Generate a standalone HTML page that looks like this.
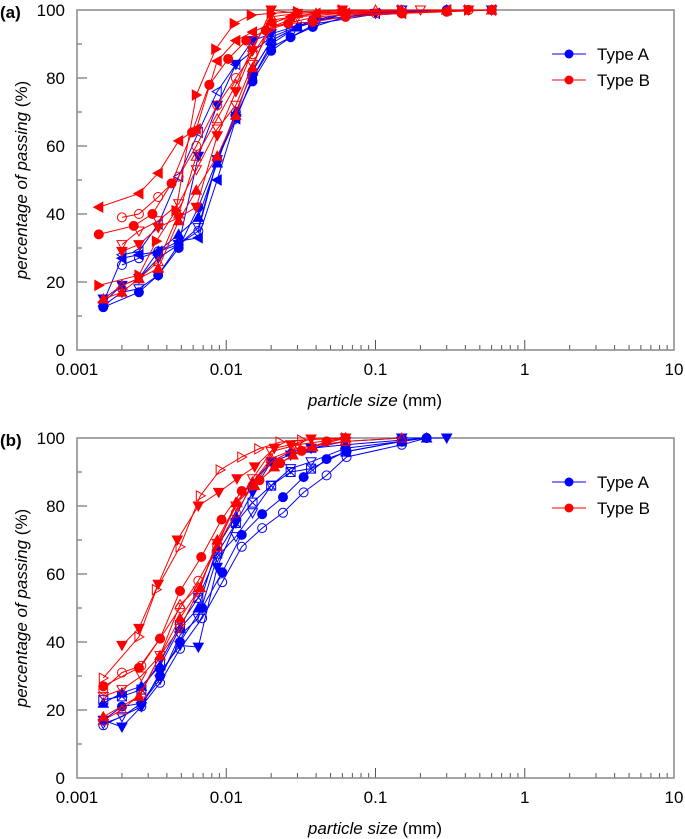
<!DOCTYPE html>
<html><head><meta charset="utf-8"><style>
html,body{margin:0;padding:0;background:#fff;}
svg{display:block;font-family:"Liberation Sans",Arial,sans-serif;}
</style></head><body>
<svg id="chart" width="685" height="839" viewBox="0 0 685 839" xmlns="http://www.w3.org/2000/svg"></svg>
<script>
// ---- data ----
const xTickLabels=["0.001","0.01","0.1","1","10"];
const yTickLabels=["0","20","40","60","80","100"];
const legendLabels=["Type A","Type B"];
// panel (a) type A
const aA1x=[0.0015,0.0026,0.0035,0.0048,0.0065,0.0087,0.0116,0.015,0.02,0.027,0.038,0.063,0.15,0.3,0.6];
const aA1y=[12.6,17,22,30,42,56,69,79,88,92,95,98,99,100,100];
const aA2x=[0.002,0.0026,0.0035,0.0048,0.0065,0.0087,0.0116,0.015,0.02,0.027,0.038,0.063,0.15,0.42];
const aA2y=[25,27,29,31,35,56,70,82,91,94,97,99,100,100];
const aA3x=[0.002,0.0026,0.0035,0.0048,0.0065,0.0087,0.0116,0.02,0.038,0.1,0.6];
const aA3y=[28,29,37,51,64,76,84,92,97,99,100];
const aA4x=[0.0015,0.002,0.0026,0.0035,0.0048,0.0065,0.0087,0.0116,0.015,0.02,0.04,0.1,0.6];
const aA4y=[15,19,21,27,31,57,72,84,91,93,97,99,100];
const aA5x=[0.0015,0.002,0.0026,0.0035,0.0048,0.0065,0.0087,0.0116,0.015,0.02,0.03,0.063,0.3];
const aA5y=[14,27,28,29,32,33,50,68,80,90,95,99,100];
const aA6x=[0.0015,0.002,0.0026,0.0035,0.0048,0.0065,0.0087,0.0116,0.015,0.02,0.03,0.063,0.3];
const aA6y=[14,19,21,29,34,39,55,70,82,91,95,99,100];
const aA7x=[0.0015,0.002,0.0026,0.0035,0.0048,0.0065,0.0087,0.0116,0.015,0.02,0.04,0.15];
const aA7y=[13,17,18,22,31,36,56,68,80,89,96,100];
// panel (a) type B
const aB1x=[0.0014,0.0026,0.0035,0.0048,0.0063,0.0087,0.0116,0.015,0.02,0.027,0.04,0.063,0.15,0.3,0.6];
const aB1y=[42,46,52,61.5,65,85,91,93.5,96,98,99,99,99,100,100];
const aB2x=[0.0014,0.0024,0.0032,0.0043,0.0059,0.0077,0.0103,0.0136,0.0184,0.026,0.038,0.063,0.15,0.3,0.6];
const aB2y=[34,36.5,40,49,64,78,85.6,91,94,96,96.5,98,99,99.5,100];
const aB3x=[0.0014,0.0026,0.0034,0.0046,0.0063,0.0085,0.0113,0.0147,0.02,0.03,0.06,0.15,0.42];
const aB3y=[19,22,32,41,75,88.5,96,98.5,99,99.5,100,100,100];
const aB4x=[0.002,0.0026,0.0035,0.0048,0.0063,0.0087,0.0116,0.015,0.02,0.04,0.1,0.42];
const aB4y=[39,40,45,51,60,72,80,87,95,98,99,100];
const aB5x=[0.002,0.0026,0.0035,0.0048,0.0063,0.0087,0.0116,0.015,0.02,0.03,0.06,0.2];
const aB5y=[31,35,38,43,53,65,72,84,95,98,99,100];
const aB6x=[0.0015,0.002,0.0026,0.0035,0.0048,0.0063,0.0087,0.0116,0.015,0.02,0.04,0.15];
const aB6y=[15,17,21,24,38,47,57,69,83,97,99,100];
const aB7x=[0.0015,0.002,0.0026,0.0035,0.0048,0.0063,0.0087,0.0116,0.015,0.02,0.03,0.1,0.6];
const aB7y=[15,19,21,26,40,57,68,78,89,98,99,100,100];
const aB8x=[0.002,0.0026,0.0035,0.0048,0.0063,0.0087,0.0116,0.015,0.02,0.03,0.06,0.42];
const aB8y=[29,31,36,39,42,63,76,88,100,99,100,100];
// panel (b) type A
const bA1x=[0.0015,0.0027,0.0036,0.0049,0.0069,0.0094,0.0127,0.0174,0.024,0.033,0.047,0.064,0.15,0.22];
const bA1y=[15.5,21,28,38,47,57.6,68,73.5,78,84,89,94.4,98,100];
const bA2x=[0.0015,0.002,0.0027,0.0036,0.0049,0.0069,0.0094,0.0127,0.0174,0.024,0.033,0.047,0.064,0.15,0.22];
const bA2y=[17,21,22,30,40,50,60.5,71.5,77.6,82.6,88.5,93.8,96,99,100];
const bA3x=[0.0015,0.002,0.0027,0.0036,0.0049,0.0065,0.0087,0.0116,0.015,0.02,0.027,0.037,0.063,0.15,0.3];
const bA3y=[17,15,21,31,39,38.5,62,75,84,93,95,97,99,100,100];
const bA4x=[0.0015,0.002,0.0027,0.0036,0.0049,0.0065,0.0087,0.0116,0.015,0.02,0.027,0.037,0.063,0.22];
const bA4y=[22,25,27,33,44,50,68,77,87,93,96,97,98,100];
const bA5x=[0.0015,0.002,0.0027,0.0036,0.0049,0.0065,0.0087,0.0116,0.015,0.02,0.027,0.037,0.063,0.15];
const bA5y=[23,24,26,34,45,53,66,75,81,86,90,91,96,99];
const bA6x=[0.0015,0.002,0.0027,0.0036,0.0049,0.0065,0.0087,0.0116,0.015,0.02,0.027,0.037,0.063,0.15];
const bA6y=[16,18,22,29,42,47,65,71,78,86,91,93,97,99];
// panel (b) type B
const bB1x=[0.0015,0.0026,0.0034,0.0049,0.0067,0.0091,0.0127,0.0165,0.0229,0.032,0.063];
const bB1y=[29.4,41.5,55.4,68,83,90.6,94.4,96.8,98.8,99.4,100];
const bB2x=[0.002,0.0026,0.0035,0.0047,0.0065,0.0089,0.0118,0.0155,0.021,0.027,0.037,0.063];
const bB2y=[39,44,57,70,80,84,88,91.5,97,98,99.7,100];
const bB3x=[0.0015,0.0026,0.0036,0.0049,0.0068,0.0093,0.0127,0.0167,0.023,0.032,0.047,0.063];
const bB3y=[27,32.4,41,55,65,76,84.4,87.6,92.6,96.2,99,100];
const bB4x=[0.0015,0.002,0.0027,0.0036,0.0049,0.0065,0.0087,0.0116,0.015,0.02,0.03,0.063];
const bB4y=[26,31,33,41,50,58,68,78,86,93,97,99];
const bB5x=[0.0015,0.0026,0.0036,0.0049,0.0067,0.0087,0.0118,0.0155,0.021,0.028,0.038,0.063];
const bB5y=[18,24,36,47,56,70,81,86,91.5,95,97.4,100];
const bB6x=[0.0015,0.002,0.0027,0.0036,0.0049,0.0065,0.0087,0.0116,0.015,0.02,0.03,0.063];
const bB6y=[24,26,30,36,44,55,69,80,88,96,98,100];
const bB7x=[0.0015,0.002,0.0027,0.0036,0.0049,0.0065,0.0087,0.0116,0.015,0.02,0.03,0.063,0.15];
const bB7y=[17,20,25,36,51,56,68,81,87,94,97,99,100];

const panels=[
 {id:"a",top:10,series:[
  [aA1x,aA1y,"A","circle",true],[aA2x,aA2y,"A","circle",false],[aA3x,aA3y,"A","left",false],
  [aA4x,aA4y,"A","down",true],[aA5x,aA5y,"A","left",true],[aA6x,aA6y,"A","up",true],[aA7x,aA7y,"A","down",false],
  [aB1x,aB1y,"B","left",true],[aB2x,aB2y,"B","circle",true],[aB3x,aB3y,"B","right",true],[aB4x,aB4y,"B","circle",false],
  [aB5x,aB5y,"B","down",false],[aB6x,aB6y,"B","up",true],[aB7x,aB7y,"B","up",false],[aB8x,aB8y,"B","down",true]]},
 {id:"b",top:438,series:[
  [bA1x,bA1y,"A","circle",false],[bA2x,bA2y,"A","circle",true],[bA3x,bA3y,"A","down",true],
  [bA4x,bA4y,"A","up",true],[bA5x,bA5y,"A","square",false],[bA6x,bA6y,"A","down",false],
  [bB1x,bB1y,"B","right",false],[bB2x,bB2y,"B","down",true],[bB3x,bB3y,"B","circle",true],[bB4x,bB4y,"B","circle",false],
  [bB5x,bB5y,"B","up",true],[bB6x,bB6y,"B","down",false],[bB7x,bB7y,"B","up",false]]}
];

const NS="http://www.w3.org/2000/svg";
const svg=document.getElementById("chart");
const L=77,R=674,H=340;
function xs(v){return L+(R-L)*(Math.log10(v)+3)/4;}
function mk(tag,at,parent){const e=document.createElementNS(NS,tag);for(const k in at)e.setAttribute(k,at[k]);(parent||svg).appendChild(e);return e;}
const colors={A:"#0000ff",B:"#ff0000"};
function marker(g,shape,cx,cy,col,filled){
  const r=4.5;let e;
  const st={fill:filled?col:"none",stroke:col,"stroke-width":1};
  if(shape==="circle"){e=mk("circle",Object.assign({cx:cx,cy:cy,r:r},st),g);}
  else if(shape==="square"){e=mk("rect",Object.assign({x:cx-r,y:cy-r,width:2*r,height:2*r},st),g);
    mk("path",{d:`M${cx-r} ${cy-r}L${cx+r} ${cy+r}M${cx+r} ${cy-r}L${cx-r} ${cy+r}`,stroke:col,"stroke-width":1},g);}
  else{let p;const s=5;
    if(shape==="up")p=[[cx,cy-s],[cx+s,cy+s*0.8],[cx-s,cy+s*0.8]];
    if(shape==="down")p=[[cx,cy+s],[cx+s,cy-s*0.8],[cx-s,cy-s*0.8]];
    if(shape==="left")p=[[cx-s,cy],[cx+s*0.8,cy-s],[cx+s*0.8,cy+s]];
    if(shape==="right")p=[[cx+s,cy],[cx-s*0.8,cy-s],[cx-s*0.8,cy+s]];
    e=mk("polygon",Object.assign({points:p.map(q=>q.join(",")).join(" ")},st),g);}
  
  
}
panels.forEach(P=>{
  const T=P.top,B=T+H;
  const ys=v=>B-H*v/100;
  const g=mk("g",{});
  
  
  const lab=mk("text",{x:0,y:T+8,"font-size":17,"font-weight":"bold"},g);lab.textContent="("+P.id+")";
  
  
  // ticks
  yTickLabels.forEach((t,i)=>{const y=ys(i*20);
    mk("line",{x1:L,x2:L+10,y1:y,y2:y,stroke:"#555","stroke-width":1},g);
    if(i<5)mk("line",{x1:L,x2:L+5,y1:ys(i*20+10),y2:ys(i*20+10),stroke:"#555","stroke-width":1},g);
    const tx=mk("text",{x:65,y:y+6,"font-size":17,"text-anchor":"end"},g);tx.textContent=t;
    
    
  });
  xTickLabels.forEach((t,i)=>{const v=Math.pow(10,i-3),x=xs(v);
    mk("line",{x1:x,x2:x,y1:B,y2:B-10,stroke:"#555","stroke-width":1},g);
    if(i<4)for(let k=2;k<10;k++){const xx=xs(v*k);mk("line",{x1:xx,x2:xx,y1:B,y2:B-5,stroke:"#555","stroke-width":1},g);}
    const tx=mk("text",{x:x,y:B+25,"font-size":17,"text-anchor":"middle"},g);tx.textContent=t;
    
    
  });
  const fr=mk("rect",{x:L,y:T,width:R-L,height:H,fill:"none",stroke:"#888","stroke-width":1.5},g);
  
  
  const yt=mk("text",{x:0,y:0,"font-size":17,"text-anchor":"middle",transform:`translate(27,${T+H/2}) rotate(-90)`},g);
  yt.innerHTML='<tspan font-style="italic">percentage of passing</tspan> (%)';
  
  
  const xt=mk("text",{x:375,y:B+56,"font-size":17,"text-anchor":"middle"},g);
  xt.innerHTML='<tspan font-style="italic">particle size</tspan> (mm)';
  
  
  // series
  P.series.forEach((s,si)=>{
    const [xv,yv,ty,shape,filled]=s,col=colors[ty];
    const sg=mk("g",{},g);
    
    
    const pts=xv.map((x,i)=>xs(x).toFixed(1)+","+ys(yv[i]).toFixed(1)).join(" ");
    const pl=mk("polyline",{points:pts,fill:"none",stroke:col,"stroke-width":1},sg);
    
    
    xv.forEach((x,i)=>marker(sg,shape,xs(x),ys(yv[i]),col,filled));
  });
  // legend
  legendLabels.forEach((t,i)=>{const y=T+44+i*26,col=i?colors.B:colors.A;
    const lg=mk("g",{},g);
    
    
    mk("line",{x1:552,x2:586,y1:y,y2:y,stroke:col,"stroke-width":1},lg);
    mk("circle",{cx:569,cy:y,r:4.5,fill:col},lg);
    const tx=mk("text",{x:597,y:y+6,"font-size":17},lg);tx.textContent=t;
  });
});
</script>
</body></html>
